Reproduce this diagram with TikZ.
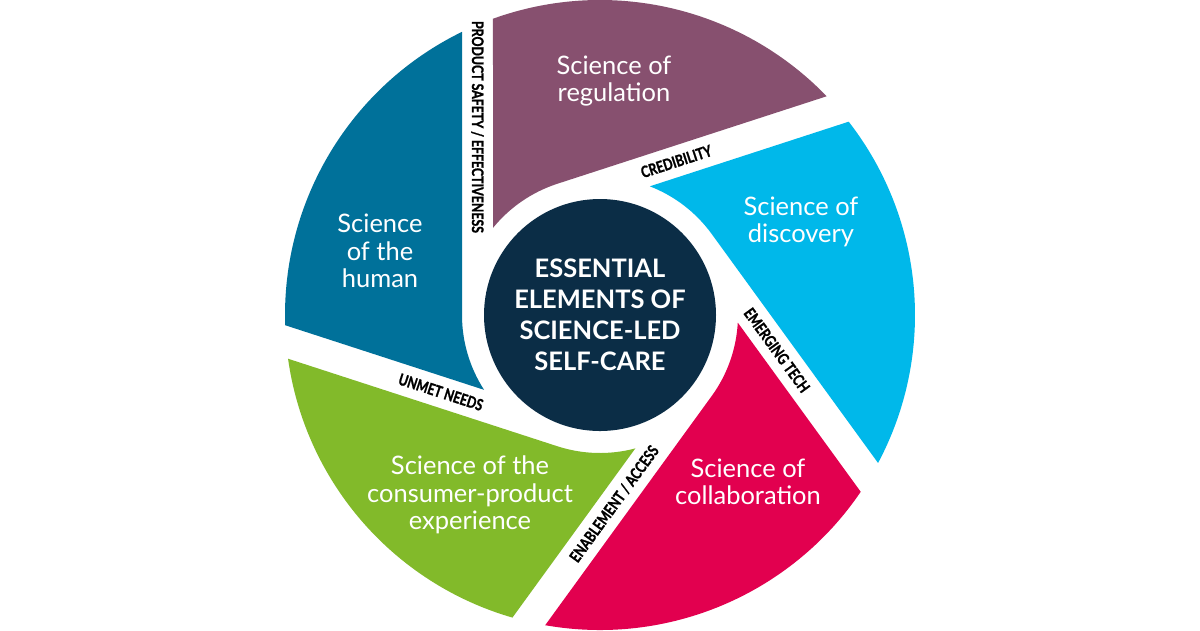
\documentclass[tikz,border=0pt]{standalone}
\usepackage{fontspec}
\setmainfont{Lato}
\newfontfamily\lblfont{Lato}[FakeStretch=0.78, FakeBold=1.2]
\usetikzlibrary{calc}
\definecolor{human}{HTML}{00719A}
\definecolor{consumer}{HTML}{82BA2A}
\definecolor{collab}{HTML}{E2004F}
\definecolor{discov}{HTML}{00B8EA}
\definecolor{regul}{HTML}{87506F}
\definecolor{hubcol}{HTML}{0B2D46}
\begin{document}
\begin{tikzpicture}[
  segtext/.style={text=white, align=center, font=\fontsize{14.5}{15.6}\selectfont, inner sep=0pt},
  hubtext/.style={text=white, align=center, font=\bfseries\fontsize{14.5}{17.6}\selectfont},
  gaplabel/.style={text=black, font=\lblfont\bfseries\fontsize{9}{9}\selectfont, inner sep=0pt},
  segment/.style={fill=#1, draw=none}
]
\useasboundingbox (-12,-6.3) rectangle (12,6.3);
\fill[white] (-12,-6.3) rectangle (12,6.3);
% shutter segments: gap direction \t, tangent ring radius 2.76, gap width 0.62, outer radius 6.3
\foreach \t/\c in {90/human,162/consumer,234/collab,306/discov,18/regul}{
  \fill[segment=\c] ({\t+25.98}:6.3) -- ({\t+90}:2.76)
    arc[start angle=\t+90, end angle=\t+122.83, radius=2.76cm]
    -- ({\t+91.86}:6.3)
    arc[start angle=\t+91.86, end angle=\t+25.98, radius=6.3cm] -- cycle;
}
% hub
\node[circle, fill=hubcol, minimum size=4.64cm, inner sep=0pt, hubtext] (hub) at (0,0)
  {ESSENTIAL\\ELEMENTS OF\\SCIENCE-LED\\SELF-CARE};
% segment texts
\node[segtext] (regt) at (0.28,4.68) {Science of\\regulation};
\node[segtext] (disct) at (4.02,1.86) {Science of\\discovery};
\node[segtext] (humt) at (-4.40,1.28) {Science\\of the\\human};
\node[segtext] (const) at (-2.60,-3.60) {Science of the\\consumer-product\\experience};
\node[segtext] (collt) at (2.96,-3.34) {Science of\\collaboration};
% gap labels
\node[gaplabel, rotate=-90] (lsafety) at ($(90:3.76)+(180:2.45)$) {PRODUCT SAFETY / EFFECTIVENESS};
\node[gaplabel, rotate=-18] (lunmet) at ($(162:2.55)+(252:2.45)$) {UNMET NEEDS};
\node[gaplabel, rotate=54] (lenable) at ($(234:2.89)+(324:2.45)$) {ENABLEMENT / ACCESS};
\node[gaplabel, rotate=-54] (lemerg) at ($(306:2.65)+(36:2.45)$) {EMERGING TECH};
\node[gaplabel, rotate=18] (lcred) at ($(18:2.40)+(108:2.45)$) {CREDIBILITY};
\end{tikzpicture}
\end{document}
